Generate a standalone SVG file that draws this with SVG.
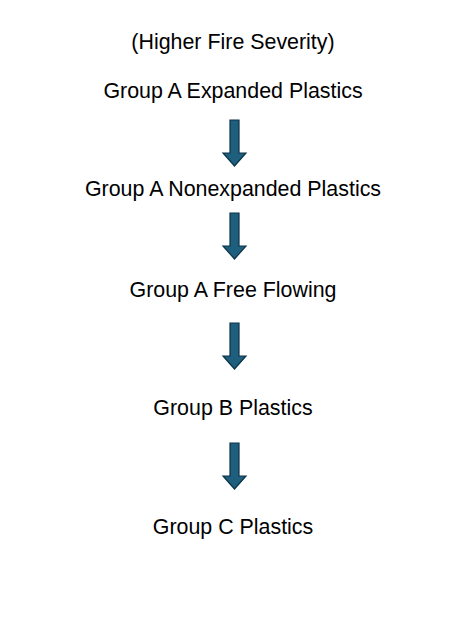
<svg xmlns="http://www.w3.org/2000/svg" width="473" height="640" viewBox="0 0 473 640">
<style>
.t{font-family:"Liberation Sans","Noto Sans",sans-serif;font-size:21.4px;fill:#000;text-anchor:middle}
.a{fill:#1f5f7e;stroke:#0c3347;stroke-width:1.2;stroke-linejoin:miter}
</style>
<defs>
<path id="arr" d="M-4.5,0 H4.5 V33 H11.5 L0,46 L-11.5,33 H-4.5 Z"/>
</defs>
<rect width="473" height="640" fill="#fff"/>
<g id="n0"><text class="t" x="233" y="49">(Higher Fire Severity)</text></g>
<g id="n1"><text class="t" x="233" y="98">Group A Expanded Plastics</text></g>
<g id="n2"><text class="t" x="233" y="196">Group A Nonexpanded Plastics</text></g>
<g id="n3"><text class="t" x="233" y="297">Group A Free Flowing</text></g>
<g id="n4"><text class="t" x="233" y="415">Group B Plastics</text></g>
<g id="n5"><text class="t" x="233" y="534">Group C Plastics</text></g>
<g id="connectors">
<use href="#arr" class="a" x="234.5" y="120"/>
<use href="#arr" class="a" x="234.5" y="213"/>
<use href="#arr" class="a" x="234.5" y="323"/>
<use href="#arr" class="a" x="234.5" y="443"/>
</g>
</svg>
